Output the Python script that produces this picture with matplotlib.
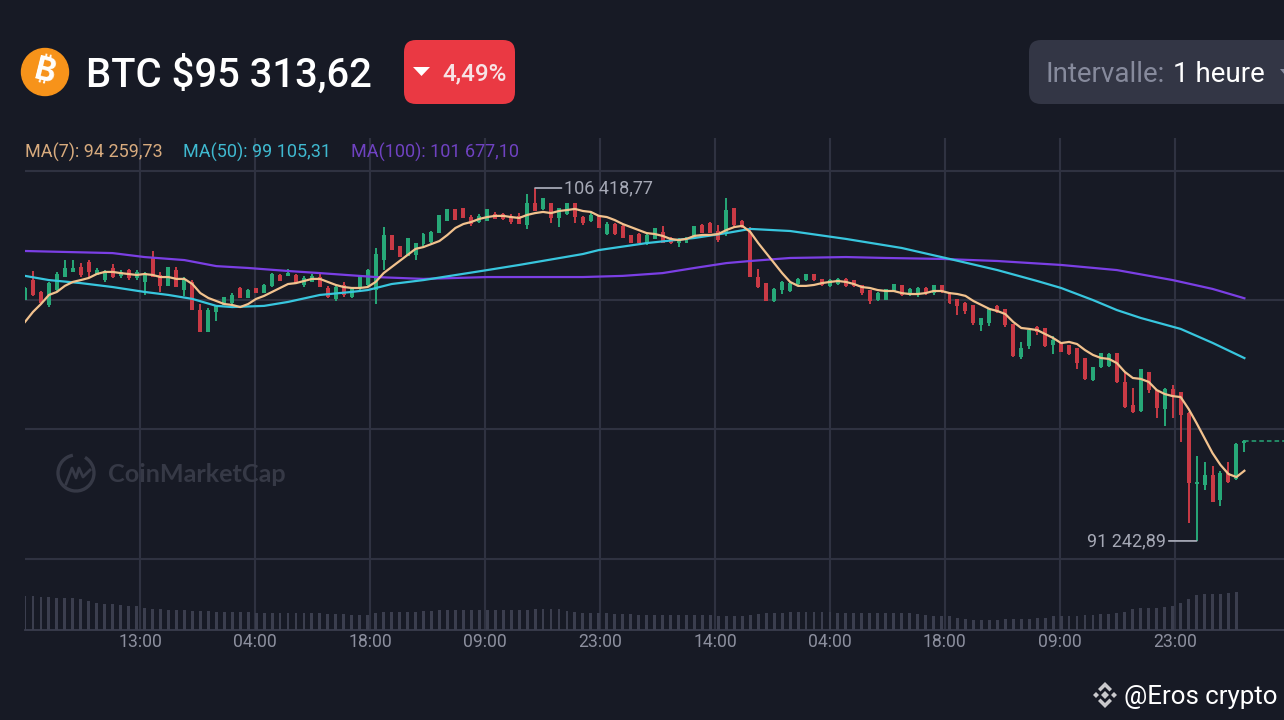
import numpy as np
import matplotlib
matplotlib.use("Agg")
import matplotlib.pyplot as plt
from matplotlib.patches import Circle, FancyBboxPatch, Polygon, Arc

# values, one candle per hour
opens = [
    101600, 102460, 101950, 101390, 102030, 102590, 102810, 103020, 103240, 102680,
    102460, 102980, 102640, 102890, 102550, 102380, 103450, 102680, 102210, 102890,
    102030, 102380, 101170, 100230, 101090, 101390, 101470, 102120, 101690, 102120,
    101900, 102210, 102680, 102640, 102680, 102250, 102380, 102590, 102120, 101650,
    102250, 101730, 102120, 102250, 102030, 103320, 104400, 103930, 103500, 103540,
    104010, 104100, 104480, 105000, 105520, 105560, 105170, 104960, 105000, 105300,
    105300, 105220, 105220, 104830, 105770, 105520, 105770, 105130, 105300, 105770,
    105170, 105000, 105220, 104440, 104870, 104790, 104400, 104440, 104010, 104230,
    104530, 104270, 104050, 104050, 104270, 104830, 104910, 104570, 104480, 105560,
    105000, 104530, 102590, 102330, 101560, 102030, 101990, 102290, 102460, 102720,
    102510, 102210, 102290, 102510, 102460, 102250, 102030, 101600, 101600, 101990,
    102250, 101820, 101820, 102120, 101900, 102250, 101900, 101650, 101470, 101390,
    100530, 100610, 101350, 101220, 100570, 99150, 99630, 100440, 100400, 99670,
    99800, 99670, 99540, 99110, 98160, 98720, 98770, 99320, 98080, 97090,
    96830, 98510, 97730, 96920, 97780, 97650, 96740, 93690, 93650, 94080,
    93000, 94160, 93910, 95450,
]
closes = [
    102120, 101820, 101470, 102330, 102720, 102980, 102980, 102680, 102810, 102890,
    102850, 102590, 102810, 102550, 102810, 102760, 102590, 102210, 103020, 102160,
    102460, 101170, 100230, 101170, 101350, 101730, 101820, 101690, 102030, 101900,
    102250, 102720, 102420, 102760, 102330, 102550, 102640, 102160, 101730, 102160,
    101820, 102080, 102640, 102890, 103580, 104400, 103750, 103450, 104270, 104050,
    104440, 104530, 105260, 105520, 105040, 105130, 104870, 105220, 105520, 105090,
    105090, 104960, 104870, 105770, 105430, 105990, 105130, 105560, 105770, 105170,
    104910, 105260, 104700, 104870, 104440, 104270, 104050, 104050, 104400, 104700,
    104050, 104050, 104230, 104180, 104790, 104480, 104480, 104180, 105470, 104830,
    104740, 102590, 102160, 101560, 102080, 102380, 102330, 102510, 102720, 102460,
    102250, 102460, 102510, 102210, 102210, 101900, 101560, 101900, 102080, 102290,
    101820, 102080, 102120, 101900, 102250, 101950, 101470, 101350, 101130, 100610,
    100830, 101220, 101090, 100530, 99200, 99540, 100310, 100230, 99630, 99880,
    99370, 99280, 98890, 98210, 98720, 99320, 99280, 98080, 97000, 96790,
    98640, 97730, 96960, 97780, 97430, 96660, 93730, 93780, 94080, 92920,
    94160, 93780, 95410, 95540,
]
highs = [
    102160, 102850, 101990, 102380, 102810, 103320, 103320, 103190, 103320, 102980,
    102890, 103150, 102890, 102940, 102890, 102810, 103710, 102810, 103020, 103020,
    102590, 102460, 101430, 101260, 101350, 101730, 101900, 102160, 102080, 102120,
    102290, 102760, 102720, 102940, 102720, 102640, 102720, 102760, 102210, 102250,
    102380, 102160, 102680, 102940, 103840, 104740, 104400, 103930, 104270, 104050,
    104480, 104570, 105260, 105520, 105520, 105560, 105260, 105300, 105520, 105390,
    105340, 105300, 105340, 106160, 106418.77, 105990, 105770, 105560, 105770, 105770,
    105220, 105340, 105260, 104960, 104910, 104830, 104400, 104480, 104440, 104700,
    104790, 104310, 104270, 104310, 104790, 104870, 104960, 104830, 105990, 105560,
    105040, 104740, 102940, 102330, 102120, 102420, 102380, 102550, 102720, 102720,
    102510, 102510, 102550, 102550, 102460, 102250, 102030, 101950, 102080, 102290,
    102250, 102120, 102160, 102160, 102250, 102250, 101950, 101650, 101520, 101390,
    100830, 101220, 101390, 101220, 100570, 99800, 100310, 100490, 100400, 100060,
    99800, 99670, 99540, 99110, 98720, 99320, 99320, 99320, 98510, 97820,
    98640, 98510, 97730, 97820, 97950, 97650, 96790, 94900, 94640, 94470,
    94250, 94640, 95450, 95580,
]
lows = [
    101600, 101780, 101430, 101300, 101950, 102590, 102810, 102590, 102590, 102680,
    102380, 102550, 102550, 102460, 102460, 101820, 102590, 101950, 102210, 102160,
    101780, 101170, 100230, 100230, 100700, 101390, 101390, 101690, 101690, 101900,
    101900, 102160, 102420, 102640, 102330, 102160, 102380, 102160, 101690, 101560,
    101730, 101690, 102030, 102160, 101430, 102890, 103750, 103450, 103500, 103320,
    103930, 104050, 104480, 105000, 105040, 105130, 104790, 104910, 105000, 105090,
    105040, 104870, 104870, 104660, 105430, 105470, 104910, 104740, 105260, 104910,
    104830, 104960, 104700, 104400, 104400, 104270, 104050, 104050, 103970, 104230,
    104050, 104010, 103880, 104050, 104270, 104480, 104480, 104100, 104360, 104740,
    104700, 102590, 102120, 101560, 101520, 101860, 101950, 102250, 102420, 102420,
    102210, 102160, 102250, 102160, 102160, 101820, 101430, 101560, 101600, 101950,
    101780, 101780, 101730, 101820, 101820, 101900, 101430, 100960, 101000, 100530,
    100270, 100490, 101040, 100440, 99150, 99070, 99500, 100100, 99580, 99280,
    99370, 99240, 98640, 98160, 98120, 98680, 98720, 98030, 96960, 96740,
    96790, 97600, 96530, 96180, 96530, 95500, 92010, 91242.89, 93430, 92920,
    92740, 93730, 93860, 95070,
]
volumes = [
    102, 102, 99, 98, 97, 96, 95, 93, 87, 82,
    79, 78, 75, 72, 71, 66, 63, 63, 61, 60,
    59, 58, 57, 56, 55, 54, 54, 53, 53, 52,
    52, 52, 51, 51, 50, 50, 50, 50, 49, 48,
    47, 45, 45, 45, 52, 54, 55, 54, 54, 55,
    56, 57, 59, 59, 60, 60, 60, 60, 60, 60,
    60, 60, 60, 60, 62, 63, 63, 62, 56, 53,
    51, 51, 50, 50, 48, 47, 47, 46, 44, 44,
    44, 44, 44, 44, 44, 45, 44, 42, 42, 42,
    43, 45, 48, 51, 52, 52, 53, 53, 53, 53,
    53, 53, 52, 52, 51, 51, 51, 51, 51, 50,
    50, 50, 48, 45, 43, 41, 41, 37, 33, 31,
    30, 30, 31, 32, 32, 32, 33, 35, 37, 41,
    42, 42, 43, 44, 46, 48, 49, 51, 53, 62,
    65, 66, 67, 68, 72, 80, 92, 104, 107, 108,
    109, 111, 113, 0,
]
ma7 = [
    100660, 101090, 101430, 101820, 101950, 102210, 102380, 102460, 102550, 102720,
    102810, 102810, 102760, 102720, 102680, 102720, 102680, 102590, 102590, 102510,
    102510, 102290, 101900, 101690, 101560, 101430, 101390, 101300, 101430, 101650,
    101780, 101950, 102120, 102290, 102330, 102420, 102510, 102510, 102380, 102250,
    102160, 102120, 102120, 102160, 102380, 102760, 103020, 103280, 103540, 103800,
    103880, 104010, 104140, 104400, 104700, 104870, 104960, 105090, 105170, 105220,
    105220, 105170, 105130, 105260, 105340, 105390, 105340, 105430, 105470, 105520,
    105430, 105390, 105220, 105170, 105040, 104870, 104740, 104610, 104480, 104440,
    104360, 104230, 104180, 104230, 104360, 104400, 104400, 104440, 104610, 104740,
    104790, 104530, 104050, 103620, 103190, 102760, 102380, 102210, 102210, 102250,
    102330, 102380, 102420, 102380, 102290, 102160, 102120, 102030, 101990, 101990,
    101900, 101860, 101860, 101900, 101990, 101990, 101900, 101860, 101780, 101560,
    101390, 101220, 101130, 101000, 100660, 100400, 100360, 100310, 100140, 99970,
    99750, 99800, 99710, 99450, 99240, 99110, 99070, 98890, 98510, 98250,
    98210, 98080, 97730, 97560, 97470, 97430, 96920, 96310, 95670, 95020,
    94510, 94120, 93990, 94259.73,
]
ma50_idx = [0, 3, 7, 11, 15, 18, 21, 24, 26, 30, 33, 37, 41, 43, 46, 50, 58, 62, 70,
            72, 78, 84, 88, 91, 96, 103, 110, 116, 122, 127, 130, 134, 137, 140, 145, 149, 153]
ma50 = [102640, 102460, 102330, 102160, 101950, 101820, 101650, 101350, 101300, 101350,
        101520, 101820, 101950, 102030, 102290, 102460, 102890, 103110, 103580, 103750,
        104050, 104270, 104480, 104660, 104570, 104230, 103840, 103370, 102890, 102420,
        102120, 101600, 101170, 100830, 100360, 99760, 99105.31]
ma100_idx = [0, 11, 15, 20, 24, 28, 33, 37, 44, 50, 58, 70, 75, 80, 84, 88, 91, 96,
             103, 108, 115, 122, 130, 137, 144, 149, 153]
ma100 = [103710, 103620, 103450, 103320, 103060, 102980, 102850, 102760, 102590, 102510,
         102590, 102590, 102640, 102760, 102980, 103190, 103280, 103410, 103450, 103410,
         103370, 103280, 103110, 102890, 102460, 102080, 101677.10]

tick_pos = [14.43, 28.86, 43.29, 57.72, 72.15, 86.57, 101.0, 115.4, 129.9, 144.3]
tick_labels = ["13:00", "04:00", "18:00", "09:00", "23:00", "14:00", "04:00", "18:00", "09:00", "23:00"]
price_grid = [107150, 101603, 96056, 90466]

BG = "#171a25"
GRID = "#2f3241"
GREEN = "#27a878"
RED = "#c93a45"
FONT = "Roboto"


def drawCandles(ax):
    """Wicks, bodies, moving averages and the high/low labels."""
    x = np.arange(len(opens))
    o, c, h, l = map(np.array, (opens, closes, highs, lows))
    colors = np.where(c >= o, GREEN, RED)

    ax.vlines(x, l, h, colors=colors, lw=1.4, zorder=3)
    ax.bar(x, np.abs(c - o), bottom=np.minimum(o, c), width=0.5, color=colors, zorder=3)

    ax.plot(ma100_idx, ma100, color="#7b3fe4", lw=1.6, zorder=4)
    ax.plot(ma50_idx, ma50, color="#38c6de", lw=1.6, zorder=5)
    ax.plot(x, ma7, color="#f2c28e", lw=1.6, zorder=6)

    # last price, dashed to the right edge
    ax.hlines(closes[-1], x[-1], ax.get_xlim()[1], colors=GREEN, lw=1.1, linestyles=(0, (3, 2)), zorder=3)

    line = dict(arrowstyle="-", color="#a5a8b5", lw=1.3, shrinkA=0, shrinkB=0)
    hi = int(np.argmax(h))
    lo = int(np.argmin(l))
    ax.annotate("106 418,77", xy=(hi, h[hi]), xytext=(21, 0), textcoords="offset points",
                va="center", ha="left", color="#a5a8b5", fontsize=13, family=FONT,
                arrowprops=line, zorder=7)
    ax.annotate("91 242,89", xy=(lo, l[lo]), xytext=(-22, 0), textcoords="offset points",
                va="center", ha="right", color="#a5a8b5", fontsize=13, family=FONT,
                arrowprops=line, zorder=7)


def drawHeader(top):
    """Everything that is not chart: coin, title, badge, selector, watermark."""
    top.add_patch(Circle((45, 72), 23.5, color="#f7931a"))
    top.text(45, 72, "\u20bf", color="white", fontsize=23, fontweight="bold", ha="center", va="center",
             rotation=-14, family=["Inter", "Noto Sans", "Open Sans", "Lato", "Roboto", "Liberation Sans"])
    top.text(86, 74.5, "BTC $95 313,62", color="white", fontsize=28.8, fontweight=500, va="center", family=FONT)

    top.add_patch(FancyBboxPatch((416, 52), 87, 40, boxstyle="round,pad=12,rounding_size=12",
                                 lw=0, color="#ea3943"))
    top.add_patch(Polygon([(413, 67), (430, 67), (421.5, 76)], color="white", lw=0))
    top.text(442, 74, "4,49%", color="#f7e3e5", fontsize=17.5, fontweight=500, va="center", family=FONT)

    top.add_patch(FancyBboxPatch((1041, 52), 300, 40, boxstyle="round,pad=12,rounding_size=12", lw=0, color="#333645"))
    top.text(1045, 74, "Intervalle:", color="#868a9c", fontsize=20, va="center", family=FONT)
    top.text(1173, 74, "1 heure", color="white", fontsize=20, va="center", family=FONT)
    top.add_patch(Polygon([(1280, 69), (1290, 69), (1285, 75)], color="#868a9c", lw=0))

    # moving average legend
    top.text(25, 152, "MA(7): 94 259,73", color="#d8ab7e", fontsize=13, va="center", family=FONT)
    top.text(183, 152, "MA(50): 99 105,31", color="#3fb9d0", fontsize=13, va="center", family=FONT)
    top.text(351, 152, "MA(100): 101 677,10", color="#6f42c1", fontsize=13, va="center", family=FONT)

    # watermark
    mark = "#363946"
    top.add_patch(Arc((76, 473), 36, 36, theta1=-60, theta2=260, color=mark, lw=2.4))
    top.plot([66, 72, 76, 79, 83, 90], [484, 468, 478, 468, 477, 470], color=mark, lw=2)
    top.text(108, 475, "CoinMarketCap", color=mark, fontsize=18.1, fontweight="bold", va="center", family="Lato")

    # footer, the four sided binance mark
    grey = "#c9c9cc"
    cx, cy = 1105, 695
    top.add_patch(Polygon([(cx, cy - 4), (cx + 4, cy), (cx, cy + 4), (cx - 4, cy)], color=grey, lw=0))
    for dx in (-9, 9):
        top.add_patch(Polygon([(cx + dx, cy - 3), (cx + dx + 3, cy), (cx + dx, cy + 3), (cx + dx - 3, cy)],
                              color=grey, lw=0))
    for sign in (-1, 1):
        top.add_patch(Polygon([(cx, cy + sign * 13), (cx + 7, cy + sign * 6), (cx + 4.5, cy + sign * 3.5),
                               (cx, cy + sign * 8), (cx - 4.5, cy + sign * 3.5), (cx - 7, cy + sign * 6)],
                              color=grey, lw=0))
    top.text(1124, 697, "@Eros crypto", color="white", fontsize=18.6, va="center", family=FONT)


def main():
    fig = plt.figure(figsize=(12.84, 7.2), dpi=100, facecolor=BG)

    # price panel, 25..1284 px across and 138..630 px down
    ax = fig.add_axes([25 / 1284, 90 / 720, 1259 / 1284, 492 / 720], facecolor=BG)
    ax.set_xlim(0, 157.97)
    ax.set_ylim(87413, 108569)
    ax.set_xticks(tick_pos)
    ax.set_xticklabels(tick_labels, color="#8c8f9e", fontsize=12.7, family=FONT)
    ax.set_yticks(price_grid)
    ax.set_yticklabels([])
    ax.tick_params(length=0, pad=2)
    ax.grid(True, color=GRID, lw=1.5, zorder=0)
    ax.set_axisbelow(True)
    for side in ("top", "left", "right"):
        ax.spines[side].set_visible(False)
    ax.spines["bottom"].set_color("#3a3d4d")
    ax.spines["bottom"].set_linewidth(1.3)

    drawCandles(ax)

    # volume bars share the x axis
    vol = ax.twinx()
    vol.set_ylim(0, 1476)
    vol.bar(range(len(volumes)), volumes, width=0.36, color="#3b3e4e")
    vol.set_yticks([])
    vol.patch.set_visible(False)
    for spine in vol.spines.values():
        spine.set_visible(False)

    # overlay in pixels for the header and labels around the chart
    top = fig.add_axes([0, 0, 1, 1])
    top.set_xlim(0, 1284)
    top.set_ylim(720, 0)
    top.axis("off")
    drawHeader(top)

    fig.savefig("out.png", dpi=100, facecolor=BG)


if __name__ == "__main__":
    main()
